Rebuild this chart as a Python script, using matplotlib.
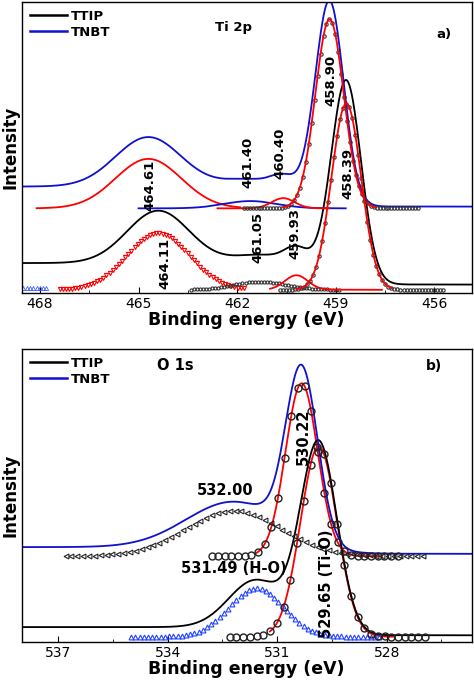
import numpy as np
import matplotlib
matplotlib.use("Agg")
import matplotlib.pyplot as plt

# ---------------- data: peak parameters (center eV, amplitude, sigma) ----------------
# Ti 2p panel
ti_tnbt_base = [36.6, 29.7]          # left, right background level
ti_tnbt_peaks = [(464.70, 17.0, 1.00), (461.60, 2.5, 0.80), (460.60, 3.5, 0.35), (459.19, 69.0, 0.43)]
ti_ttip_base = [10.3, 2.9]
ti_ttip_peaks = [(464.40, 18.0, 0.95), (461.30, 2.8, 0.80), (460.20, 5.0, 0.35), (458.68, 68.0, 0.45)]
ti_fit_off_tnbt = 29.1
ti_fit_off_ttip = 1.1
ti_labels_tnbt = ["464.61", "461.40", "460.40", "458.90"]
ti_labels_ttip = ["464.11", "461.05", "459.93", "458.39"]

# O 1s panel
o_tnbt_base = [32.4, 30.1]
o_tnbt_peaks = [(532.20, 15.5, 1.30), (530.33, 59.0, 0.44)]
o_ttip_base = [5.1, 2.3]
o_ttip_peaks = [(531.57, 16.5, 0.75), (529.86, 65.0, 0.50)]
o_fit_off_tnbt = 29.3
o_fit_off_ttip = 1.8
o_labels = ["532.00", "530.22", "531.49 (H-O)", "529.65 (Ti-O)"]


def gauss(x, c, a, s):
    return a * np.exp(-0.5 * ((x - c) / s) ** 2)


def spectrum(x, base, peaks, step_c, step_w):
    left, right = base
    bg = right + (left - right) / (1 + np.exp(-(x - step_c) / step_w))
    return bg + sum(gauss(x, *p) for p in peaks)


fig = plt.figure(figsize=(4.74, 6.83), dpi=100)
ax1 = fig.add_axes([0.046, 0.571, 0.949, 0.426])
ax2 = fig.add_axes([0.046, 0.060, 0.949, 0.429])

# ---------------- Ti 2p ----------------
x = np.linspace(454.8, 468.6, 800)
ax1.plot(x, spectrum(x, ti_ttip_base, ti_ttip_peaks, 459.0, 0.4), color="black", lw=1.3, label="TTIP")
ax1.plot(x, spectrum(x, ti_tnbt_base, ti_tnbt_peaks, 459.6, 0.4), color="#1010d0", lw=1.3, label="TNBT")

# TNBT fit components
o = ti_fit_off_tnbt
c, a, s = ti_tnbt_peaks[0]; xx = np.linspace(461.9, 468.1, 200)
ax1.plot(xx, o + gauss(xx, c, a, s), color="red", lw=1.3)
c, a, s = ti_tnbt_peaks[1]; xx = np.linspace(458.7, 465.0, 200)
ax1.plot(xx, o + gauss(xx, c, a, s), color="#1010d0", lw=1.3)
c, a, s = ti_tnbt_peaks[2]; xx = np.linspace(459.2, 462.6, 150)
ax1.plot(xx, o + gauss(xx, c, a, s), color="red", lw=1.3)
c, a, s = ti_tnbt_peaks[3]; xx = np.linspace(456.5, 461.8, 60)
ax1.plot(xx, o + gauss(xx, c, a - 4, s), 'o', ms=2.4, mfc="none", mec="#333333", mew=0.8)
xx2 = np.linspace(457.8, 460.6, 200)
ax1.plot(xx2, o + gauss(xx2, c, a - 4, s), color="red", lw=1.3)

# TTIP fit components
o = ti_fit_off_ttip
c, a, s = ti_ttip_peaks[0]; xx = np.linspace(461.8, 467.4, 60)
ax1.plot(xx, o + gauss(xx, c, a + 1.5, s), 'v', ms=3, mfc="none", mec="red", mew=0.8)
c, a, s = ti_ttip_peaks[1]; xx = np.linspace(458.9, 463.4, 50)
ax1.plot(xx, o + gauss(xx, c, a, s), 'o', ms=2.2, mfc="none", mec="#333333", mew=0.8)
c, a, s = ti_ttip_peaks[2]; xx = np.linspace(457.6, 461.0, 150)
ax1.plot(xx, o + gauss(xx, c, a, s), color="red", lw=1.3)
c, a, s = ti_ttip_peaks[3]; xx = np.linspace(455.75, 460.7, 55)
ax1.plot(xx, o + gauss(xx, c, a - 4, s), 'o', ms=2.4, mfc="none", mec="#333333", mew=0.8)
xx2 = np.linspace(457.3, 460.2, 200)
ax1.plot(xx2, o + gauss(xx2, c, a - 4, s), color="red", lw=1.3)
xx = np.linspace(467.8, 468.5, 8)
ax1.plot(xx, np.full_like(xx, 1.7), '^', ms=3, mfc="none", mec="#4060ff", mew=0.6)

kw = dict(rotation=90, fontsize=9.5, fontweight="bold", ha="center", va="center")
for lab, (px, py) in zip(ti_labels_tnbt, [(464.66, 37), (461.67, 45), (460.70, 48), (459.14, 73)]):
    ax1.text(px, py, lab, **kw)
for lab, (px, py) in zip(ti_labels_ttip, [(464.20, 10.3), (461.37, 19), (460.25, 20.6), (458.63, 41)]):
    ax1.text(px, py, lab, **kw)
ax1.text(462.1, 91.4, "Ti 2p", fontsize=9.5, fontweight="bold", ha="center", va="center")
ax1.text(455.7, 89, "a)", fontsize=9.5, fontweight="bold", ha="center", va="center")

ax1.set_xlim(468.55, 454.87)
ax1.set_ylim(0, 100)
ax1.set_xticks([468, 465, 462, 459, 456])
ax1.set_xticks([466.5, 463.5, 460.5, 457.5], minor=True)

# ---------------- O 1s ----------------
x = np.linspace(525.6, 538.1, 800)
ax2.plot(x, spectrum(x, o_ttip_base, o_ttip_peaks, 530.8, 0.5), color="black", lw=1.3, label="TTIP")
ax2.plot(x, spectrum(x, o_tnbt_base, o_tnbt_peaks, 531.2, 0.15), color="#1010d0", lw=1.3, label="TNBT")

o = o_fit_off_tnbt
c, a, s = o_tnbt_peaks[0]; xx = np.linspace(527.0, 536.8, 62)
ax2.plot(xx, o + gauss(xx, c, a, s), '<', ms=3.5, mfc="none", mec="#222222", mew=0.8)
c, a, s = o_tnbt_peaks[1]; xx = np.linspace(527.7, 532.8, 29)
ax2.plot(xx, o + gauss(xx, c, a, s), 'o', ms=5, mfc="none", mec="#222222", mew=1.0)
xx2 = np.linspace(528.2, 531.6, 200)
ax2.plot(xx2, o + gauss(xx2, c, a, s), color="red", lw=1.3, zorder=1)

o = o_fit_off_ttip
c, a, s = o_ttip_peaks[0]; xx = np.linspace(528.2, 535.0, 60)
ax2.plot(xx, o + gauss(xx, c, a, s), '^', ms=3.5, mfc="none", mec="#2040ff", mew=0.8)
c, a, s = o_ttip_peaks[1]; xx = np.linspace(526.95, 532.3, 30)
ax2.plot(xx, o + gauss(xx, c, a, s), 'o', ms=5, mfc="none", mec="#222222", mew=1.0)
xx2 = np.linspace(527.8, 531.2, 200)
ax2.plot(xx2, o + gauss(xx2, c, a, s), color="red", lw=1.3, zorder=1)

kw2 = dict(kw, fontsize=10.5)
ax2.text(532.44, 51.7, o_labels[0], fontsize=10.5, fontweight="bold", ha="center", va="center")
ax2.text(530.29, 69.9, o_labels[1], **kw2)
ax2.text(532.2, 25.0, o_labels[2], fontsize=10.5, fontweight="bold", ha="center", va="center")
ax2.text(529.65, 19.9, o_labels[3], **kw2)
ax2.text(533.8, 94.3, "O 1s", fontsize=10.5, fontweight="bold", ha="center", va="center")
ax2.text(526.7, 94.3, "b)", fontsize=10, fontweight="bold", ha="center", va="center")

ax2.set_xlim(538.0, 525.67)
ax2.set_ylim(0, 100)
ax2.set_xticks([537, 534, 531, 528])
ax2.set_xticks([535.5, 532.5, 529.5, 526.5], minor=True)

for ax in (ax1, ax2):
    ax.set_yticks([])
    ax.set_ylabel("Intensity", fontsize=12, fontweight="bold", labelpad=2)
    ax.set_xlabel("Binding energy (eV)", fontsize=12.5, fontweight="bold", labelpad=0)
    ax.tick_params(axis="x", which="both", direction="in", labelsize=10, pad=3)
    ax.tick_params(axis="x", which="major", length=4)
    ax.tick_params(axis="x", which="minor", length=2)
    leg = ax.legend(loc="upper left", frameon=False, prop=dict(weight="bold", size=9.5),
                    handlelength=2.8, borderaxespad=0.2, labelspacing=0.2, handletextpad=0.3)
    for ln in leg.get_lines():
        ln.set_linewidth(1.8)
    for sp in ax.spines.values():
        sp.set_linewidth(1.0)

fig.savefig("out.png", dpi=100)
